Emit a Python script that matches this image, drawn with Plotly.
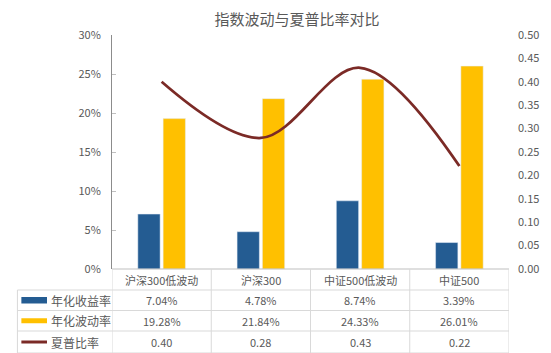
import plotly.graph_objects as go

categories = ["沪深300低波动", "沪深300", "中证500低波动", "中证500"]
annual_return = [0.0704, 0.0478, 0.0874, 0.0339]
annual_vol = [0.1928, 0.2184, 0.2433, 0.2601]
sharpe = [0.40, 0.28, 0.43, 0.22]
series_names = ["年化收益率", "年化波动率", "夏普比率"]
left_ticks = [0, 0.05, 0.10, 0.15, 0.20, 0.25, 0.30]
right_ticks = [0, 0.05, 0.10, 0.15, 0.20, 0.25, 0.30, 0.35, 0.40, 0.45, 0.50]

W, H = 551, 353
L, R, T, B = 112, 515, 35, 269
PW, PH = R - L, B - T

BLUE = "#245C92"
YELLOW = "#FFC000"
RED = "#7B2A26"
TXT = "#595959"
GRID = "#D9D9D9"
FONT = "Noto Sans CJK SC"


def px_x(x):
    return (x - L) / PW


def px_y(y):
    return (B - y) / PH


fig = go.Figure()
fig.add_trace(go.Bar(x=categories, y=annual_return, name=series_names[0],
                     marker_color=BLUE, yaxis="y"))
fig.add_trace(go.Bar(x=categories, y=annual_vol, name=series_names[1],
                     marker_color=YELLOW, yaxis="y"))
fig.add_trace(go.Scatter(x=categories, y=sharpe, name=series_names[2],
                         mode="lines", line=dict(color=RED, width=2.75, shape="spline"),
                         yaxis="y2"))

shapes = []
annotations = []

row_tops = [269, 290, 310.5, 331, 353]
# horizontal lines of table
for i, y in enumerate(row_tops):
    x0 = 112 if i == 0 else 16
    shapes.append(dict(type="line", xref="paper", yref="paper",
                       x0=px_x(x0), x1=px_x(R), y0=px_y(y), y1=px_y(y),
                       line=dict(color=GRID if i > 0 else "#BFBFBF", width=1)))
# vertical lines
for k in range(len(categories) + 1):
    shapes.append(dict(type="line", xref="x", yref="paper",
                       x0=k - 0.5, x1=k - 0.5, y0=px_y(269), y1=px_y(353),
                       line=dict(color=GRID, width=1)))
shapes.append(dict(type="line", xref="paper", yref="paper",
                   x0=px_x(16), x1=px_x(16), y0=px_y(290), y1=px_y(353),
                   line=dict(color=GRID, width=1)))

# header categories
for k, c in enumerate(categories):
    annotations.append(dict(x=k, y=px_y(279.5), xref="x", yref="paper", text=c,
                            xanchor="center", yanchor="middle",
                            showarrow=False, font=dict(size=11, color=TXT, family=FONT)))

rows = [
    [f"{v*100:.2f}%" for v in annual_return],
    [f"{v*100:.2f}%" for v in annual_vol],
    [f"{v:.2f}" for v in sharpe],
]
colors = [BLUE, YELLOW, RED]
widths = [6.5, 5, 3]
for r in range(3):
    yc = (row_tops[r + 1] + row_tops[r + 2]) / 2
    for k in range(len(categories)):
        annotations.append(dict(x=k, y=px_y(yc), xref="x", yref="paper", text=rows[r][k],
                                xanchor="center", yanchor="middle",
                                showarrow=False, font=dict(size=11, color=TXT, family=FONT)))
    shapes.append(dict(type="line", xref="paper", yref="paper",
                       x0=px_x(20), x1=px_x(46), y0=px_y(yc), y1=px_y(yc),
                       line=dict(color=colors[r], width=widths[r])))
    annotations.append(dict(x=px_x(48), y=px_y(yc), xref="paper", yref="paper",
                            text=series_names[r], xanchor="left", yanchor="middle",
                            showarrow=False,
                            font=dict(size=12, color=TXT, family=FONT)))

fig.update_layout(
    width=W, height=H,
    margin=dict(l=L, r=W - R, t=T, b=H - B, pad=0),
    paper_bgcolor="white", plot_bgcolor="white",
    showlegend=False,
    barmode="group", bargap=0.49, bargroupgap=0.12,
    font=dict(family=FONT, color=TXT, size=11),
    title=dict(text="指数波动与夏普比率对比", x=297 / W, xanchor="center",
               y=1 - 20 / H, yanchor="middle", xref="container", yref="container",
               font=dict(size=15, color=TXT, family=FONT)),
    xaxis=dict(range=[-0.5, 3.5], showticklabels=False, showline=False,
               showgrid=False, zeroline=False, ticks=""),
    yaxis=dict(range=[0, 0.30], tickvals=left_ticks,
               ticktext=[f"{int(round(v*100))}%" for v in left_ticks],
               showgrid=False, zeroline=False, showline=True, linecolor="#8C8C8C",
               linewidth=1, ticks="inside", ticklen=4, tickcolor="#BFBFBF",
               ticklabelstandoff=8, tickfont=dict(size=11, color=TXT)),
    yaxis2=dict(range=[0, 0.50], tickvals=right_ticks,
                ticktext=[f"{v:.2f}" for v in right_ticks],
                overlaying="y", side="right", showgrid=False, zeroline=False,
                showline=False, ticks="", ticklabelstandoff=8,
                tickfont=dict(size=11, color=TXT)),
    shapes=shapes, annotations=annotations,
)

fig.write_html("out.html")
